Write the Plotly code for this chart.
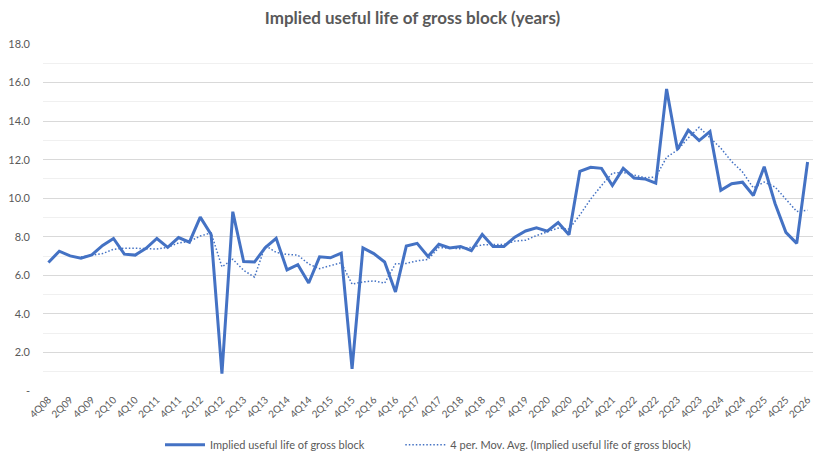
import plotly.graph_objects as go
import pandas as pd

quarters = []
for year in range(2008, 2027):
    for q in range(1, 5):
        if (year == 2008 and q < 4) or (year == 2026 and q > 2):
            continue
        quarters.append(f"{q}Q{year % 100:02d}")

useful_life = [
    6.67, 7.25, 7.01, 6.89, 7.06, 7.55, 7.91, 7.10, 7.05, 7.40,
    7.91, 7.45, 7.96, 7.72, 9.02, 8.12, 0.90, 9.30, 6.72, 6.69,
    7.44, 7.92, 6.28, 6.55, 5.60, 6.96, 6.91, 7.15, 1.15, 7.42,
    7.13, 6.69, 5.14, 7.52, 7.66, 6.98, 7.61, 7.42, 7.50, 7.28,
    8.12, 7.50, 7.50, 7.98, 8.30, 8.47, 8.29, 8.74, 8.10, 11.39,
    11.60, 11.55, 10.66, 11.55, 11.05, 11.00, 10.78, 15.67, 12.53, 13.53,
    12.99, 13.46, 10.41, 10.75, 10.83, 10.14, 11.63, 9.73, 8.23, 7.66,
    11.88,
]

# Excel "4 per. Mov. Avg." trendline of the series
moving_avg = pd.Series(useful_life).rolling(4).mean().tolist()

y_ticks = [0, 2, 4, 6, 8, 10, 12, 14, 16, 18]
y_ticktext = ["-", "2.0", "4.0", "6.0", "8.0", "10.0", "12.0", "14.0", "16.0", "18.0"]
x_ticks = quarters[::2]

series_name = "Implied useful life of gross block"
ma_name = "4 per. Mov. Avg. (Implied useful life of gross block)"

blue = "#4472C4"
text_col = "#595959"
font_family = "Lato, Carlito, 'Liberation Sans', sans-serif"

fig = go.Figure()
fig.add_trace(go.Scatter(
    x=quarters, y=useful_life, mode="lines",
    name=series_name + "\u00a0" * 11,
    line=dict(color=blue, width=3),
))
fig.add_trace(go.Scatter(
    x=quarters, y=moving_avg, mode="lines", name=ma_name,
    line=dict(color=blue, width=1.5, dash="1.5px,2px"),
))

fig.update_layout(
    width=825, height=471,
    paper_bgcolor="white", plot_bgcolor="white",
    margin=dict(l=43, r=12, t=44, b=73),
    title=dict(
        text="<b>Implied useful life of gross block (years)</b>",
        x=0.5, xanchor="center", y=0.962, yanchor="middle",
        font=dict(size=17, color=text_col, family=font_family),
    ),
    font=dict(family=font_family, color=text_col, size=11),
    showlegend=True,
    legend=dict(
        orientation="h", x=0.5, xanchor="center", y=-0.155, yanchor="middle",
        font=dict(size=11, color=text_col), itemwidth=40,
        traceorder="normal",
    ),
    xaxis=dict(
        type="category", tickmode="array", tickvals=x_ticks, ticktext=x_ticks,
        range=[-0.5, len(quarters) - 0.5], automargin=False,
        tickangle=-45, showgrid=False, showline=False, ticks="",
        tickfont=dict(size=10, color=text_col), zeroline=False,
    ),
    yaxis=dict(
        range=[0, 18], tickmode="array", tickvals=y_ticks, ticktext=y_ticktext,
        automargin=False, ticklabelstandoff=12,
        showgrid=True, gridcolor="#d9d9d9", gridwidth=1, zeroline=False,
        showline=False, ticks="", tickfont=dict(size=11, color=text_col),
        minor=dict(tickmode="array", tickvals=[1, 3, 5, 7, 9, 11, 13, 15, 17],
                   showgrid=True, gridcolor="#f0f0f0", gridwidth=1, ticks=""),
    ),
)

fig.write_html("out.html", config={"displayModeBar": False},
               post_script="document.body.style.margin='0';")
